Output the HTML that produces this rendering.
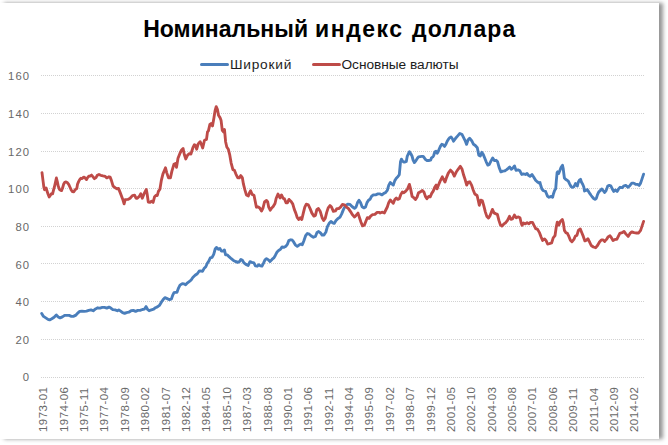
<!DOCTYPE html>
<html><head><meta charset="utf-8"><title>Номинальный индекс доллара</title>
<style>
html,body{margin:0;padding:0;background:#fff;}
body{width:668px;height:445px;overflow:hidden;position:relative;font-family:"Liberation Sans",sans-serif;}
#panel{position:absolute;left:0px;top:3px;width:659px;height:436px;background:#fff;box-shadow:4px 0px 4px 0px rgba(0,0,0,0.42);}
#title{position:absolute;left:0;top:12px;width:660px;height:34px;font-weight:bold;font-size:23px;line-height:34px;color:#000;white-space:nowrap;}
#title span{position:absolute;top:0;}
.leg{position:absolute;top:57px;font-size:13.7px;line-height:16px;color:#1c1c1c;white-space:nowrap;}
.sw{position:absolute;top:63px;height:3px;border-radius:1.5px;}
svg{position:absolute;left:0;top:0;}
svg text{font-family:"Liberation Sans",sans-serif;fill:#686868;}
</style></head><body>
<div id="panel"></div>
<div id="title"><span style="left:143.2px;letter-spacing:0.03px">Номинальный</span><span style="left:315.1px;letter-spacing:1.5px">индекс</span><span style="left:412px;letter-spacing:1.05px">доллара</span></div>
<div class="sw" style="left:199.5px;width:29.5px;background:#4a7ebb"></div>
<div class="leg" style="left:230px;letter-spacing:0.77px">Широкий</div>
<div class="sw" style="left:312px;width:28.5px;background:#be4b48"></div>
<div class="leg" style="left:341.5px;letter-spacing:-0.03px">Основные валюты</div>
<svg width="668" height="445" viewBox="0 0 668 445">
<g stroke="#d2d2d2" stroke-width="1" stroke-dasharray="1,1" shape-rendering="crispEdges"><line x1="41" x2="645" y1="75.5" y2="75.5"/><line x1="41" x2="645" y1="113.5" y2="113.5"/><line x1="41" x2="645" y1="151.5" y2="151.5"/><line x1="41" x2="645" y1="188.5" y2="188.5"/><line x1="41" x2="645" y1="226.5" y2="226.5"/><line x1="41" x2="645" y1="263.5" y2="263.5"/><line x1="41" x2="645" y1="301.5" y2="301.5"/><line x1="41" x2="645" y1="339.5" y2="339.5"/><line x1="41" x2="645" y1="377.5" y2="377.5"/></g>
<g font-size="11.3" text-anchor="end" letter-spacing="1.05"><text x="30.1" y="79.8">160</text><text x="30.1" y="117.8">140</text><text x="30.1" y="155.8">120</text><text x="30.1" y="192.7">100</text><text x="30.1" y="230.8">80</text><text x="30.1" y="268.7">60</text><text x="30.1" y="305.8">40</text><text x="30.1" y="343.8">20</text><text x="30.1" y="380.6">0</text></g>
<g font-size="11.5" letter-spacing="0.45"><text transform="translate(47.30,432.0) rotate(-90)">1973-01</text><text transform="translate(67.68,432.0) rotate(-90)">1974-06</text><text transform="translate(88.07,432.0) rotate(-90)">1975-11</text><text transform="translate(108.45,432.0) rotate(-90)">1977-04</text><text transform="translate(128.83,432.0) rotate(-90)">1978-09</text><text transform="translate(149.22,432.0) rotate(-90)">1980-02</text><text transform="translate(169.60,432.0) rotate(-90)">1981-07</text><text transform="translate(189.98,432.0) rotate(-90)">1982-12</text><text transform="translate(210.36,432.0) rotate(-90)">1984-05</text><text transform="translate(230.75,432.0) rotate(-90)">1985-10</text><text transform="translate(251.13,432.0) rotate(-90)">1987-03</text><text transform="translate(271.51,432.0) rotate(-90)">1988-08</text><text transform="translate(291.90,432.0) rotate(-90)">1990-01</text><text transform="translate(312.28,432.0) rotate(-90)">1991-06</text><text transform="translate(332.66,432.0) rotate(-90)">1992-11</text><text transform="translate(353.04,432.0) rotate(-90)">1994-04</text><text transform="translate(373.43,432.0) rotate(-90)">1995-09</text><text transform="translate(393.81,432.0) rotate(-90)">1997-02</text><text transform="translate(414.19,432.0) rotate(-90)">1998-07</text><text transform="translate(434.58,432.0) rotate(-90)">1999-12</text><text transform="translate(454.96,432.0) rotate(-90)">2001-05</text><text transform="translate(475.34,432.0) rotate(-90)">2002-10</text><text transform="translate(495.73,432.0) rotate(-90)">2004-03</text><text transform="translate(516.11,432.0) rotate(-90)">2005-08</text><text transform="translate(536.49,432.0) rotate(-90)">2007-01</text><text transform="translate(556.88,432.0) rotate(-90)">2008-06</text><text transform="translate(577.26,432.0) rotate(-90)">2009-11</text><text transform="translate(597.64,432.0) rotate(-90)">2011-04</text><text transform="translate(618.02,432.0) rotate(-90)">2012-09</text><text transform="translate(638.41,432.0) rotate(-90)">2014-02</text></g>
<polyline fill="none" stroke="#4a7ebb" stroke-width="2.85" stroke-linejoin="round" stroke-linecap="round" points="41.7,313.4 43.5,316.4 45.8,317.9 48.0,319.4 49.6,319.9 51.8,318.7 54.1,317.2 56.3,314.9 58.3,316.9 60.1,317.9 62.4,316.9 64.6,315.4 66.9,315.4 69.1,315.4 71.4,316.4 73.3,316.4 75.5,315.4 77.4,313.4 79.7,311.4 81.9,311.1 84.2,311.4 86.5,311.1 88.7,310.4 91.0,309.9 93.2,310.8 95.5,308.9 97.7,307.8 100.0,308.1 102.3,307.4 104.5,307.4 106.8,308.1 109.0,307.1 110.5,307.8 112.8,309.6 115.1,309.9 117.3,310.8 118.8,309.9 120.6,311.1 122.6,312.7 124.6,313.4 126.5,312.6 128.8,312.2 131.1,310.7 133.3,310.4 135.6,311.4 137.8,310.4 140.1,310.4 142.4,309.5 144.3,309.2 146.1,306.6 147.6,309.5 149.1,310.7 151.4,309.9 153.7,309.2 155.5,307.7 157.4,306.9 159.4,305.4 161.2,302.4 163.0,299.8 164.9,297.6 167.2,298.6 169.5,299.7 171.4,298.9 172.9,294.8 174.0,292.6 175.5,292.3 177.0,292.3 178.5,288.1 180.0,285.1 182.3,283.6 184.1,283.9 185.6,284.8 187.5,282.8 189.5,281.3 191.0,280.2 192.8,277.5 195.1,275.3 197.3,273.8 199.1,271.2 200.1,270.9 202.5,271.3 204.0,268.6 205.8,266.8 207.3,263.3 208.8,261.1 210.3,257.8 212.1,257.3 213.7,254.3 215.2,249.0 216.5,247.4 218.3,249.3 219.9,248.4 221.4,251.1 222.9,251.1 224.4,249.9 225.6,254.9 227.4,254.9 229.3,256.9 231.3,258.7 233.1,260.2 235.4,261.4 237.6,262.4 239.4,261.7 240.9,259.4 242.4,260.2 244.0,262.9 245.9,264.4 248.2,265.5 250.0,261.7 251.9,262.4 253.9,262.9 255.4,265.9 257.2,266.2 258.7,264.7 260.5,265.9 262.0,266.2 263.5,263.2 265.0,259.9 266.5,258.7 268.5,259.9 270.0,261.4 272.0,259.4 273.8,257.9 275.3,255.4 277.1,251.9 278.6,250.4 280.5,249.3 282.1,246.9 284.0,247.4 285.8,246.3 287.3,244.4 288.8,240.6 290.6,239.8 292.0,239.9 293.5,241.7 295.3,244.8 297.3,246.3 299.3,244.8 301.1,244.0 302.3,244.8 303.8,241.0 305.6,235.7 307.4,233.5 309.3,234.2 311.3,236.0 313.4,237.2 315.4,236.5 316.9,232.7 318.4,231.5 320.3,232.7 322.1,235.0 324.0,235.0 325.9,232.0 327.4,226.7 329.4,222.9 330.9,221.4 332.7,222.9 334.2,223.4 336.0,220.4 338.0,218.4 339.9,217.3 341.7,213.9 343.5,209.4 345.5,205.6 347.7,204.1 350.0,204.4 352.3,206.8 354.5,208.3 356.0,207.1 357.5,202.6 359.0,200.3 360.5,202.6 362.1,206.8 364.0,207.9 365.5,207.1 367.0,202.6 368.5,200.3 370.0,199.3 371.5,196.3 373.3,194.8 375.6,194.8 377.9,193.9 380.2,193.9 382.0,194.9 383.8,193.4 385.3,192.7 387.3,190.4 388.8,185.1 390.3,182.4 391.8,183.9 393.3,185.1 394.8,180.6 396.3,178.3 397.8,176.8 399.3,174.6 400.5,161.8 401.4,159.1 402.5,160.9 403.6,162.0 405.0,162.0 406.3,161.4 407.2,156.4 408.4,153.8 409.5,151.8 410.8,153.8 412.0,156.0 413.1,160.0 414.4,162.6 415.8,160.9 417.1,158.7 418.5,156.9 420.1,156.6 421.6,156.3 423.0,156.3 424.3,157.8 425.6,159.6 427.0,160.5 428.8,160.5 430.6,160.2 431.5,157.8 432.8,156.9 433.7,155.5 434.8,152.0 436.0,151.2 437.2,153.3 438.0,152.0 439.1,149.3 440.5,146.1 441.8,144.3 443.2,144.9 444.5,146.4 445.9,144.3 447.2,141.2 448.6,138.9 449.9,137.6 451.0,136.9 452.2,138.5 453.5,141.2 454.8,139.4 455.6,138.3 457.5,136.1 459.8,133.4 462.1,134.6 463.6,137.6 465.1,140.6 466.6,144.4 468.1,139.8 469.6,138.3 471.7,140.7 473.5,144.3 475.3,145.5 477.3,147.8 478.8,155.3 480.3,156.1 481.8,152.3 483.3,154.6 484.8,158.3 486.3,162.1 487.8,165.1 489.3,164.4 490.8,161.4 492.7,157.9 494.3,160.6 496.1,160.3 497.6,161.8 499.1,167.4 500.9,171.9 502.9,171.1 504.9,170.8 506.7,169.6 508.5,168.1 509.7,166.9 511.2,169.3 513.0,167.8 514.5,165.9 516.0,170.4 518.0,169.9 519.9,170.8 521.7,174.5 523.5,173.9 525.5,174.5 527.0,173.4 528.5,175.4 530.0,176.4 532.0,174.5 533.8,177.2 535.6,180.2 537.5,182.0 539.5,183.2 540.0,182.5 540.9,186.1 542.0,189.2 543.1,190.5 544.3,191.0 545.6,191.4 546.5,193.7 547.6,196.4 549.0,197.3 550.1,196.8 551.2,196.4 552.6,197.3 553.5,193.7 554.6,190.5 555.7,188.8 556.4,179.8 557.1,172.6 557.8,171.7 558.7,173.5 559.8,170.8 561.1,167.2 562.5,165.2 563.2,168.5 563.8,173.5 564.4,178.0 565.6,179.3 567.0,180.2 568.3,181.1 569.6,183.8 571.0,186.5 572.3,187.4 573.7,187.0 574.6,185.6 575.5,183.5 576.4,184.7 577.3,186.1 578.2,182.5 579.4,180.2 580.6,179.3 581.5,182.3 582.7,184.3 583.8,187.0 584.5,191.0 585.8,190.5 587.2,189.6 588.5,191.4 589.9,193.7 591.2,195.5 592.6,197.3 593.9,198.8 595.3,199.4 596.4,198.2 597.5,194.6 598.8,191.9 600.5,190.4 601.7,188.9 603.2,190.7 604.7,192.5 606.2,190.4 607.7,186.1 609.3,185.4 610.8,185.8 612.3,188.9 613.8,191.4 615.3,189.9 617.1,191.4 618.6,188.9 620.1,187.3 622.1,187.7 624.0,185.8 625.8,185.4 628.1,187.3 630.0,185.4 631.8,183.1 633.7,183.1 635.6,184.3 637.6,184.3 639.1,185.4 640.6,183.1 642.1,178.6 643.6,174.1"/>
<polyline fill="none" stroke="#be4b48" stroke-width="2.85" stroke-linejoin="round" stroke-linecap="round" points="42.0,172.6 42.5,176.7 43.2,182.1 43.9,187.5 44.5,189.7 45.4,188.5 46.1,187.9 47.0,191.1 48.1,194.2 49.2,196.9 50.4,195.1 51.5,193.6 52.6,193.9 53.5,190.2 54.4,187.0 55.3,183.0 56.4,178.0 57.3,181.6 58.2,186.1 59.4,189.3 60.5,190.2 61.5,190.6 62.4,188.5 63.6,184.3 64.8,182.3 66.0,181.9 67.5,182.8 68.7,184.3 69.9,187.0 71.1,189.7 72.3,191.5 73.8,191.8 74.8,190.2 75.9,189.1 76.8,188.5 77.5,184.3 78.6,181.6 79.8,179.4 80.9,178.3 82.2,178.5 83.4,177.4 84.3,177.1 85.4,178.3 86.5,179.6 87.6,177.6 88.8,176.2 90.1,176.0 91.5,175.1 92.8,176.7 94.4,178.7 96.0,177.6 97.3,175.3 99.0,174.5 100.8,175.3 103.0,175.9 105.3,176.4 106.8,177.9 109.0,176.8 110.1,177.1 111.3,180.1 113.1,186.1 115.1,187.7 117.3,188.9 118.5,188.4 120.3,192.9 122.6,198.9 124.1,203.9 125.2,199.7 127.9,199.4 130.1,198.2 132.4,195.6 134.6,195.2 136.0,198.2 137.3,198.2 139.6,195.9 140.8,193.7 142.3,198.2 144.1,193.7 146.3,189.5 147.1,193.7 148.3,202.0 150.1,202.4 151.6,201.2 153.1,202.4 154.6,196.7 156.1,195.2 157.3,195.5 158.4,191.4 159.9,189.2 161.4,180.1 162.9,174.1 165.5,167.8 166.7,172.6 168.5,177.9 170.4,177.9 171.9,171.1 173.9,164.3 175.4,163.6 176.5,167.3 178.0,158.3 179.5,154.5 180.1,153.0 181.6,150.0 183.1,148.5 184.3,154.5 185.8,159.0 187.6,155.2 189.4,153.7 190.9,154.0 192.9,147.7 194.4,144.7 195.5,145.5 196.7,149.2 198.2,143.9 200.1,141.7 201.2,143.9 202.7,148.0 204.5,140.2 206.5,139.4 207.5,131.9 208.4,130.8 209.9,124.4 211.0,123.6 212.5,125.9 214.0,117.6 215.2,110.1 216.2,106.7 217.4,109.3 218.5,115.3 220.0,117.6 221.1,120.6 222.3,130.4 223.5,131.9 224.5,129.6 225.6,141.7 226.8,147.0 228.3,149.2 229.8,155.2 231.1,162.8 232.9,169.6 234.4,170.3 235.9,174.1 237.8,177.9 239.3,177.9 240.8,175.6 242.4,177.9 243.4,183.9 244.9,189.9 246.4,194.9 248.4,195.9 249.4,192.9 250.6,190.7 252.1,194.4 254.0,195.2 255.2,201.2 256.4,207.2 258.2,206.9 259.7,208.0 261.5,211.0 263.0,208.0 264.5,202.0 266.5,200.5 267.7,202.0 268.7,207.2 270.2,210.2 271.7,208.0 273.2,206.5 275.0,203.5 276.2,198.2 278.0,194.1 280.0,197.9 281.5,194.9 283.0,198.2 284.5,198.9 286.0,202.7 287.5,202.7 289.0,199.4 291.3,201.8 292.8,204.1 294.3,209.4 295.8,213.1 297.3,217.7 298.8,219.5 300.3,217.7 301.8,219.5 303.3,213.1 304.8,207.1 306.3,204.1 308.3,204.8 310.1,208.6 311.9,213.1 313.9,216.1 315.4,215.4 316.9,209.4 318.4,208.6 320.3,211.6 322.1,217.7 323.7,220.4 325.2,218.4 326.7,212.4 328.2,207.9 330.0,205.6 331.5,207.1 333.4,211.3 335.4,210.9 336.9,208.6 338.7,208.6 340.5,207.1 342.5,204.4 344.4,204.8 346.2,206.8 348.5,208.6 350.5,211.6 352.3,214.6 354.5,216.9 356.0,215.4 358.0,213.1 359.5,217.7 361.0,222.2 362.5,225.9 364.3,225.2 365.8,221.4 367.3,217.7 369.1,218.4 370.6,216.1 372.6,214.6 374.9,214.3 377.1,212.4 379.4,212.4 380.2,213.0 382.0,212.2 384.3,213.0 385.8,210.0 387.3,207.0 388.8,202.4 390.3,199.9 391.8,201.7 393.3,203.2 394.8,199.4 396.3,197.9 397.8,199.4 399.3,198.7 400.8,194.5 402.4,191.9 403.9,192.7 405.8,191.1 407.6,188.9 409.4,184.4 410.6,188.9 412.1,196.4 414.0,197.9 415.5,199.4 417.0,197.2 418.5,192.7 420.4,191.9 422.4,190.4 423.9,191.9 425.4,196.4 426.9,198.7 428.7,196.4 430.2,196.9 431.7,193.4 433.2,191.1 434.7,187.4 436.2,185.1 437.0,188.9 438.5,185.1 440.0,181.4 442.3,176.8 443.8,179.8 445.0,182.1 446.5,177.6 448.3,173.1 450.5,170.1 452.5,172.3 454.3,176.1 456.1,172.3 458.1,169.3 460.3,166.3 462.1,169.3 463.7,175.3 465.2,179.8 466.7,185.1 468.2,182.1 469.7,181.8 471.6,185.1 473.3,190.3 474.8,194.0 477.1,195.5 478.3,200.8 479.3,205.3 480.8,200.1 482.4,200.8 483.9,206.1 485.4,212.1 486.9,216.6 488.4,218.1 489.9,215.9 491.4,212.1 492.4,209.4 494.0,212.9 495.5,213.6 497.4,214.4 498.9,220.4 500.4,224.9 501.9,226.0 503.9,223.9 505.7,222.7 507.5,220.4 509.5,216.3 511.0,219.3 512.5,218.9 514.4,215.1 516.2,217.8 518.0,216.9 520.0,217.8 521.1,222.7 522.0,225.4 523.5,223.0 525.3,223.9 527.1,222.7 529.0,223.9 530.5,222.3 532.5,222.3 534.0,225.4 535.8,228.7 537.6,229.4 539.6,232.9 541.1,237.0 542.6,240.4 544.6,238.9 546.1,240.7 547.6,244.0 549.4,243.7 551.6,243.0 553.2,237.9 555.0,235.7 556.2,227.4 557.3,222.1 558.8,225.1 560.3,221.4 562.3,219.4 563.3,222.9 564.4,230.4 565.9,232.7 567.4,233.4 568.9,236.4 570.4,240.2 571.9,241.7 573.9,239.4 575.4,236.0 576.9,235.4 578.4,230.4 580.3,228.9 581.8,232.7 583.3,236.4 584.9,240.9 586.4,240.2 587.9,238.7 589.4,241.7 591.2,245.5 593.4,247.0 595.7,247.7 597.5,245.5 599.5,242.0 601.4,239.9 603.2,239.9 604.7,241.4 606.5,239.4 608.0,236.9 610.0,235.7 611.5,237.9 613.0,240.5 615.0,239.4 616.8,239.4 618.3,236.4 619.8,233.4 622.1,232.7 624.0,231.4 625.8,233.9 628.1,236.4 630.0,233.4 631.8,231.9 634.1,232.7 636.4,233.0 638.6,233.0 640.6,230.4 642.1,225.9 643.6,221.4"/>
</svg>
</body></html>
